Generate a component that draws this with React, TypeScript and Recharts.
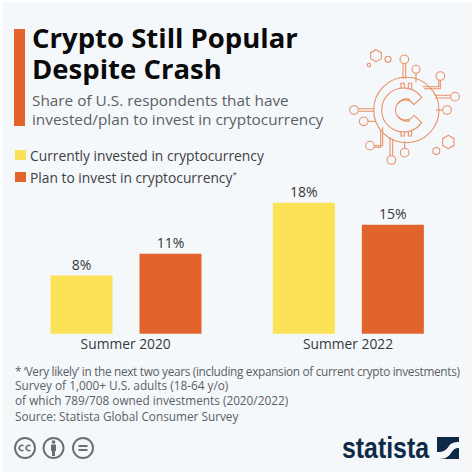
import { BarChart, Bar, XAxis, YAxis, LabelList, Legend } from "recharts"

const periods = ["Summer 2020", "Summer 2022"]
const currentlyInvested = [8, 18]
const planToInvest = [11, 15]
const seriesNames = ["Currently invested in cryptocurrency", "Plan to invest in cryptocurrency"]
const titleLines = ["Crypto Still Popular", "Despite Crash"]
const subtitleLines = ["Share of U.S. respondents that have", "invested/plan to invest in cryptocurrency"]
const footnoteLines = [
  "* ‘Very likely’ in the next two years (including expansion of current crypto investments)",
  "Survey of 1,000+ U.S. adults (18-64 y/o)",
  "of which 789/708 owned investments (2020/2022)",
]
const sourceLine = "Source: Statista Global Consumer Survey"

const data = periods.map((period, i) => ({
  period,
  current: currentlyInvested[i],
  plan: planToInvest[i],
}))

const FONT = "'Open Sans', sans-serif"
const YELLOW = "#fbe256"
const ORANGE = "#e2642c"
const ICON = "#e98f66"

const formatPercent = (v: any) => `${v}%`

function LegendList({ payload }: any) {
  return (
    <div style={{ fontFamily: FONT, fontSize: 13.8, color: "#3d4144" }}>
      {(payload || []).map((item: any, i: number) => (
        <div key={item.value} style={{ display: "flex", alignItems: "center", height: 22, whiteSpace: "nowrap" }}>
          <span style={{ width: 10.5, height: 10.5, background: item.color, marginRight: 4.5 }} />
          <span>{item.value}</span>
          {i === 1 && <sup style={{ fontSize: 8, lineHeight: 0, marginTop: -6 }}>*</sup>}
        </div>
      ))}
    </div>
  )
}

function CoinIcon() {
  const nodes = [
    [193, 58, 13], [228, 88, 12], [301, 108, 13], [345, 170, 13], [321, 210, 13],
    [42, 210, 13], [71, 244, 13], [90, 317, 13], [154, 360, 13], [194, 338, 13],
    [144, 58, 9], [87, 75, 5],
  ]
  const wires = [
    "M189 71V116M197 71V116", "M228 100V126", "M301 121V146H252M296 121V140H248",
    "M332 166H283M332 174H285", "M308 210H288", "M55 206H102M55 214H102", "M84 244H106",
    "M103 317H128V262M103 322H122V268", "M150 347V292M158 347V296", "M194 325V304",
  ]
  return (
    <svg width={134} height={130} viewBox="0 0 402 390" style={{ position: "absolute", left: 340, top: 40 }}
      fill="none" stroke={ICON} strokeWidth={3.2}>
      <circle cx={199} cy={210} r={98} />
      {nodes.map(([cx, cy, r]) => <circle key={`${cx}-${cy}`} cx={cx} cy={cy} r={r} />)}
      {wires.map((d) => <path key={d} d={d} />)}
      <polygon points="108,29 124,38 124,56 108,65 92,56 92,38" />
      <polygon points="325,286 342,296 342,316 325,326 308,316 308,296" />
      <polygon points="289,321 299,327 299,339 289,345 279,339 279,327" />
      <path d="M245 172A66 66 0 1 0 245 248L222 226A30 30 0 1 1 222 194Z" />
      <path d="M172 192A34 34 0 0 1 210 178M172 228A34 34 0 0 0 210 242" strokeWidth={4} />
      <path d="M183 146V130H193V145M205 145V130H215V148M183 274V288H193V275M205 275V288H215V272" />
    </svg>
  )
}

function CcIcons() {
  return (
    <svg width={100} height={30} viewBox="0 0 100 30" style={{ position: "absolute", left: 10, top: 433 }}
      fill="none" stroke="#6b6e70" strokeWidth={1.9}>
      <circle cx={15} cy={15} r={10} />
      <circle cx={43.5} cy={15} r={10} />
      <circle cx={73} cy={15} r={10} />
      <path d="M13.5 13A2.6 2.6 0 1 0 13.5 17M20.5 13A2.6 2.6 0 1 0 20.5 17" strokeWidth={1.6} />
      <circle cx={43.5} cy={9} r={1.8} fill="#6b6e70" stroke="none" />
      <rect x={41} y={11.5} width={5} height={6.5} fill="#6b6e70" stroke="none" />
      <rect x={42} y={17} width={3} height={6} fill="#6b6e70" stroke="none" />
      <path d="M68.5 13H77.5M68.5 17H77.5" strokeWidth={1.9} />
    </svg>
  )
}

function StatistaLogo() {
  return (
    <svg width={134} height={34} viewBox="0 0 134 34" style={{ position: "absolute", left: 340, top: 432 }}>
      <text x={2} y={26} fontFamily="'Liberation Sans Narrow', 'Liberation Sans', sans-serif" fontWeight={700} fontSize={30} fill="#0f2a47"
        textLength={87} lengthAdjust="spacingAndGlyphs">statista</text>
      <rect x={97} y={5} width={22} height={22} fill="#0f2a47" />
      <path d="M97 27V20C104 20 106 18 109 14C111 11 114 10 119 10V16C115 16 114 17 111 21C108 26 104 27 97 27Z" fill="#f5f8fb" />
    </svg>
  )
}

export default function App() {
  return (
    <div style={{ position: "absolute", left: 0, top: 0, width: 474, height: 474, background: "#fff", overflow: "hidden" }}>
      <style>{"body{margin:0}"}</style>
      <div style={{ position: "absolute", left: 2, top: 2, width: 470, height: 470, background: "#f5f8fb", borderRadius: 3 }} />
      <div style={{ position: "absolute", left: 14, top: 29, width: 11, height: 96.5, background: ORANGE }} />

      <div style={{ position: "absolute", left: 32, top: 22, fontFamily: FONT, fontWeight: 700, fontSize: 27.5, lineHeight: "31px", color: "#0a0a0a", whiteSpace: "nowrap" }}>
        {titleLines.map((l) => <div key={l}>{l}</div>)}
      </div>
      <div style={{ position: "absolute", left: 32, top: 91, fontFamily: FONT, fontSize: 15.35, lineHeight: "19.3px", color: "#5b6064", whiteSpace: "nowrap" }}>
        {subtitleLines.map((l) => <div key={l}>{l}</div>)}
      </div>

      <CoinIcon />

      <div style={{ position: "absolute", left: 0, top: 0 }}>
        <BarChart width={474} height={474} data={data} barGap={27} barCategoryGap={35.6}
          margin={{ top: 188.3, right: 14.8, bottom: 110.3, left: 14.5 }}>
          <XAxis dataKey="period" axisLine={false} tickLine={false} height={30} interval={0} tickMargin={0}
            tick={{ fontFamily: FONT, fontSize: 13.8, fill: "#33383b" }} />
          <YAxis hide domain={[0, 20]} />
          <Legend layout="vertical" align="center" verticalAlign="middle" content={<LegendList />}
            wrapperStyle={{ left: 15, top: 144, width: 300 }} />
          <Bar dataKey="current" name={seriesNames[0]} fill={YELLOW} barSize={62} isAnimationActive={false}>
            <LabelList dataKey="current" position="top" offset={6} formatter={formatPercent}
              style={{ fontFamily: FONT, fontSize: 14, fill: "#33383b" }} />
          </Bar>
          <Bar dataKey="plan" name={seriesNames[1]} fill={ORANGE} barSize={62} isAnimationActive={false}>
            <LabelList dataKey="plan" position="top" offset={6} formatter={formatPercent}
              style={{ fontFamily: FONT, fontSize: 14, fill: "#33383b" }} />
          </Bar>
        </BarChart>
      </div>

      <div style={{ position: "absolute", left: 15, top: 363.5, fontFamily: FONT, fontSize: 11.8, lineHeight: "14.6px", color: "#5b6064", whiteSpace: "nowrap" }}>
        {footnoteLines.map((l, i) => <div key={l} style={{ letterSpacing: i === 0 ? -0.31 : 0 }}>{l}</div>)}
      </div>
      <div style={{ position: "absolute", left: 15, top: 408, fontFamily: FONT, fontSize: 11.8, lineHeight: "16px", color: "#5b6064", whiteSpace: "nowrap" }}>
        {sourceLine}
      </div>

      <CcIcons />
      <StatistaLogo />
    </div>
  )
}
